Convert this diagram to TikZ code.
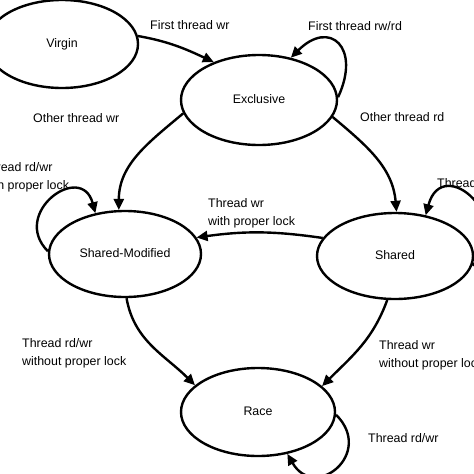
\documentclass[tikz,border=0pt]{standalone}
\usepackage{fontspec}
\setmainfont{Liberation Sans}
\usetikzlibrary{arrows.meta,shapes.geometric}
\begin{document}
\begin{tikzpicture}[x=1pt,y=1pt,
  font=\fontsize{12.4}{18}\selectfont,
  state/.style={draw,ellipse,line width=2.4pt,inner sep=0pt,text height=9pt,text depth=2.6pt},
  lbl/.style={anchor=north west,inner sep=0pt,align=left},
  edge/.style={line width=2.4pt,-{Triangle[length=11pt,width=10pt]}}]
\useasboundingbox (0,0) rectangle (474,-474);
\node[state,minimum width=152pt,minimum height=88pt] (V) at (62,-44) {Virgin};
\node[state,minimum width=156pt,minimum height=90pt] (E) at (259,-100) {Exclusive};
\node[state,minimum width=152pt,minimum height=86pt] (SM) at (125,-254) {Shared-Modified};
\node[state,minimum width=156pt,minimum height=86pt] (S) at (395,-256) {Shared};
\node[state,minimum width=154pt,minimum height=88pt] (R) at (258,-412) {Race};

\draw[edge] (V.6) to[out=-10,in=155] (E.140);
\draw[edge] (E.2) to[out=65,in=45,distance=55pt] (E.53);
\draw[edge] (E.190) to[out=220,in=90] (SM.98);
\draw[edge] (E.347) to[out=-40,in=95] (S.88);
\draw[edge] (S.166) to[bend right=8] (SM.13);
\draw[edge] (SM.178) to[out=135,in=105,distance=54pt] (SM.126);
\draw[edge] (S.-7) to[out=45,in=75,distance=65pt] (S.53);
\draw[edge] (SM.-88) to[out=-80,in=135] (R.157);
\draw[edge] (S.-100) to[out=-110,in=45] (R.22);
\draw[edge] (R.-2) to[out=-45,in=-60,distance=55pt] (R.-55);

\node[lbl] (l1) at (150,-20.5) {First thread wr};
\node[lbl] (l2) at (308,-21.5) {First thread rw/rd};
\node[lbl] (l3) at (33,-113.5) {Other thread wr};
\node[lbl] (l4) at (360,-112.5) {Other thread rd};
\node[lbl] (l5) at (208,-198.5) {Thread wr\\with proper lock};
\node[lbl] (l6) at (-18,-162.5) {Thread rd/wr\\with proper lock};
\node[lbl] (l7) at (437,-178.5) {Thread rd};
\node[lbl] (l8) at (22,-338) {Thread rd/wr\\without proper lock};
\node[lbl] (l9) at (379,-340.5) {Thread wr\\without proper lock};
\node[lbl] (l10) at (368,-433.5) {Thread rd/wr};
\end{tikzpicture}
\end{document}
